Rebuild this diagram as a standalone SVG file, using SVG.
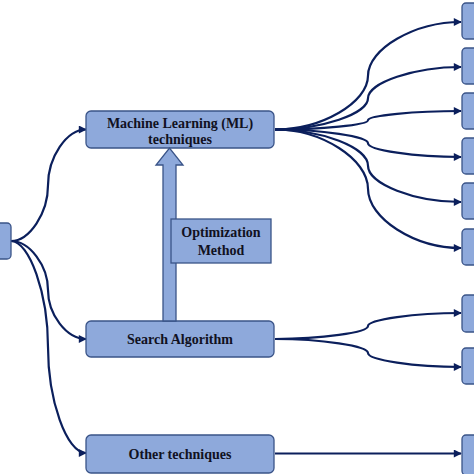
<svg xmlns="http://www.w3.org/2000/svg" width="474" height="474" viewBox="0 0 474 474">
<defs>
<style>
.box{fill:#8EA9DB;stroke:#3A5488;stroke-width:1.3}
.c{fill:none;stroke:#0B1F5C;stroke-width:2.2}
.t{font-family:"Liberation Serif","Times New Roman",serif;font-weight:bold;font-size:14px;fill:#111122;text-anchor:middle}
</style>
<marker id="ah" viewBox="0 0 10 10" refX="9" refY="5" markerWidth="9" markerHeight="8" markerUnits="userSpaceOnUse" orient="auto">
<path d="M0,0 L10,5 L0,10 z" fill="#0B1F5C"/>
</marker>
</defs>
<rect width="474" height="474" fill="#ffffff"/>
<g id="connectors">
<path class="c" marker-end="url(#ah)" d="M11,241 C29.5,241 48,213.1 48,185.25 C48,157.4 66.5,129.5 86,129.5"/>
<path class="c" marker-end="url(#ah)" d="M11,241 C29.5,241 48,265.5 48,290 C48,314.5 66.5,339 86,339"/>
<path class="c" marker-end="url(#ah)" d="M11,241 C29.5,241 48,294 48,347 C48,400 66.5,453 86,453"/>
<path class="c" marker-end="url(#ah)" d="M275,129.5 C321.5,129.5 368,102.6 368,75.75 C368,48.9 414.5,22 461,22"/>
<path class="c" marker-end="url(#ah)" d="M275,129.5 C321.5,129.5 368,113.9 368,98.25 C368,82.6 414.5,67 461,67"/>
<path class="c" marker-end="url(#ah)" d="M275,129.5 C321.5,129.5 368,124.9 368,120.25 C368,115.6 414.5,111 461,111"/>
<path class="c" marker-end="url(#ah)" d="M275,129.5 C321.5,129.5 368,136.4 368,143.25 C368,150.1 414.5,157 461,157"/>
<path class="c" marker-end="url(#ah)" d="M275,129.5 C321.5,129.5 368,147.6 368,165.75 C368,183.9 414.5,202 461,202"/>
<path class="c" marker-end="url(#ah)" d="M275,129.5 C321.5,129.5 368,159.1 368,188.75 C368,218.4 414.5,248 461,248"/>
<path class="c" marker-end="url(#ah)" d="M275,339 C321.5,339 368,332.5 368,326 C368,319.5 414.5,313 461,313"/>
<path class="c" marker-end="url(#ah)" d="M275,339 C321.5,339 368,346 368,353 C368,360 414.5,367 461,367"/>
<path class="c" marker-end="url(#ah)" d="M275,453.5 L461,453.5"/>
</g>
<g id="root"><rect class="box" x="-10" y="223" width="21" height="36" rx="4"/></g>
<g id="ml"><rect class="box" x="86" y="111" width="188" height="37" rx="5"/>
<text class="t" x="180" y="127.5">Machine Learning (ML)</text>
<text class="t" x="180" y="143.5">techniques</text></g>
<g id="search"><rect class="box" x="86" y="321" width="188" height="36" rx="5"/>
<text class="t" x="180" y="344">Search Algorithm</text></g>
<g id="other"><rect class="box" x="86" y="435" width="188" height="38" rx="5"/>
<text class="t" x="180" y="459">Other techniques</text></g>
<g id="block-arrow"><polygon class="box" points="163,321 163,165 156,165 169.5,148 183,165 176,165 176,321"/></g>
<g id="opt"><rect class="box" x="171" y="219" width="100" height="44"/>
<text class="t" x="221" y="237">Optimization</text>
<text class="t" x="221" y="255">Method</text></g>
<g id="r1"><rect class="box" x="462" y="3" width="24" height="36" rx="4"/></g>
<g id="r2"><rect class="box" x="462" y="48" width="24" height="36" rx="4"/></g>
<g id="r3"><rect class="box" x="462" y="93" width="24" height="36" rx="4"/></g>
<g id="r4"><rect class="box" x="462" y="138" width="24" height="36" rx="4"/></g>
<g id="r5"><rect class="box" x="462" y="183" width="24" height="36" rx="4"/></g>
<g id="r6"><rect class="box" x="462" y="229" width="24" height="36" rx="4"/></g>
<g id="r7"><rect class="box" x="462" y="295" width="24" height="37" rx="4"/></g>
<g id="r8"><rect class="box" x="462" y="348" width="24" height="36" rx="4"/></g>
<g id="r9"><rect class="box" x="462" y="435" width="24" height="40" rx="4"/></g>
</svg>
